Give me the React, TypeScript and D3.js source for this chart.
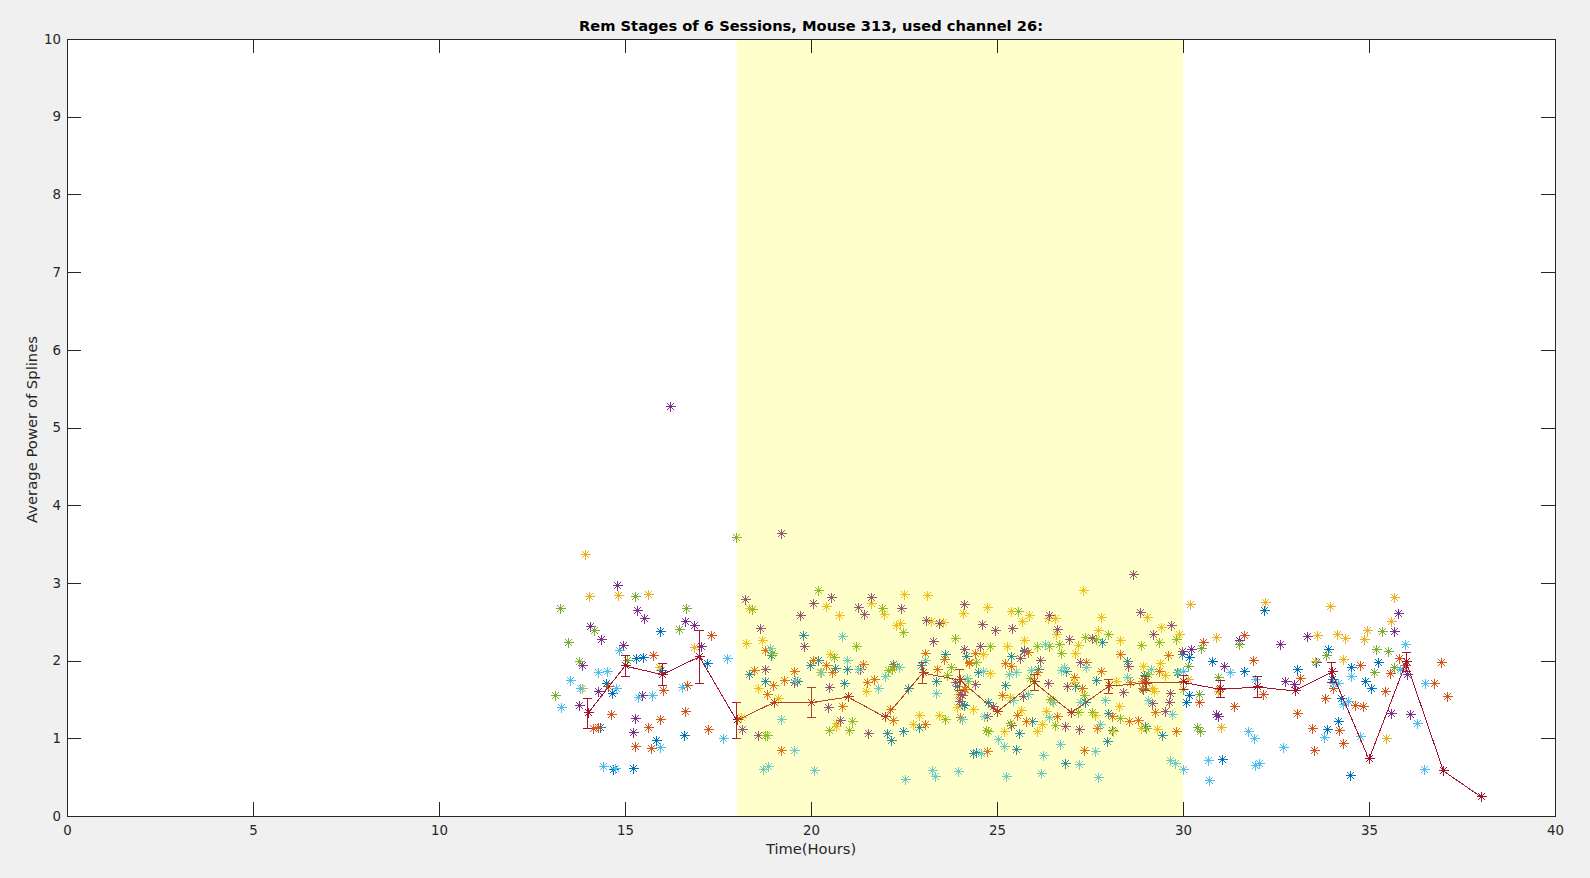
import React, { useRef, useEffect } from "react";
import * as d3 from "d3";

type Pt = [number, number];

// [hour, average power], one list per session
const blueSession: Pt[] = [
  [15.95,2.37],[15.30,2.02],[15.49,2.03],[17.21,1.95],[14.49,1.70],[14.64,1.57],[14.32,1.13],[16.59,1.03],[15.83,0.96],[15.22,0.60],[14.69,0.59],[15.97,1.86],
  [19.79,2.32],[18.92,2.06],[20.18,1.99],[19.97,1.93],[20.65,1.89],[20.98,1.88],[22.21,1.94],[18.34,1.81],[18.75,1.72],[19.62,1.72],[20.90,1.70],[23.61,2.07],[22.96,1.93],[24.17,2.04],[23.36,1.73],[22.62,1.63],[24.10,1.41],[22.89,1.13],[22.05,1.06],[22.16,0.97],[22.48,1.08],[23.92,1.66],
  [27.83,2.23],[25.73,2.12],[25.38,2.05],[28.50,1.98],[24.50,1.84],[26.11,1.88],[26.86,1.85],[27.66,1.74],[25.22,1.67],[27.11,1.66],[28.96,1.80],[24.77,1.45],[27.37,1.45],[27.99,1.31],[25.95,1.21],[25.60,1.06],[28.10,1.10],[29.44,1.03],[27.96,0.95],[25.52,0.85],[24.36,0.80],[24.43,0.81],[26.84,0.67],[29.98,2.07],[29.83,1.84],[28.93,1.62],[24.05,1.43],[28.98,1.14],
  [32.19,2.64],[30.17,2.03],[30.15,1.54],[30.09,1.45],[30.79,1.98],[31.65,1.85],[33.06,1.88],[33.91,2.13],[33.58,1.97],[34.52,1.90],[35.25,1.97],[34.90,1.72],[35.06,1.63],[34.26,1.50],[34.18,1.21],[33.88,1.11],[31.06,0.72],[34.50,0.51],[34.00,1.75],
];

const orangeSession: Pt[] = [
  [17.32,2.32],[15.76,2.06],[16.68,1.67],[16.03,1.61],[14.53,1.66],[14.63,1.30],[16.62,1.34],[15.95,1.24],[14.15,1.12],[14.28,1.13],[15.63,1.13],[17.24,1.11],[15.28,0.89],[15.71,0.86],
  [18.75,2.12],[23.07,2.09],[23.58,2.01],[23.40,1.88],[18.47,1.87],[20.06,2.00],[20.39,1.93],[21.41,1.94],[19.55,1.85],[20.57,1.84],[22.23,1.92],[19.28,1.74],[18.99,1.67],[21.69,1.75],[21.51,1.71],[18.83,1.56],[20.82,1.40],[22.13,1.36],[22.21,1.22],[23.06,1.17],[19.19,0.84],[24.00,1.26],[24.14,1.62],[24.24,1.96],
  [24.41,2.09],[24.25,1.97],[25.84,2.10],[25.22,1.96],[25.38,1.92],[27.40,1.97],[28.31,2.07],[29.61,2.06],[27.80,1.85],[29.36,1.85],[27.08,1.78],[27.29,1.63],[26.08,1.84],[25.14,1.55],[28.57,1.71],[28.89,1.73],[28.91,1.63],[26.62,1.28],[25.55,1.29],[25.79,1.21],[28.08,1.27],[28.56,1.21],[28.79,1.22],[29.26,1.33],[29.82,1.08],[27.69,1.12],[27.35,0.84],[24.74,0.82],[24.10,1.62],
  [30.55,2.23],[31.65,2.32],[31.89,1.99],[34.31,2.01],[34.77,1.93],[35.81,2.02],[35.57,1.83],[35.98,1.93],[36.94,1.97],[36.75,1.70],[33.15,1.76],[32.16,1.56],[30.44,1.45],[31.38,1.40],[34.02,1.64],[35.44,1.59],[37.10,1.53],[33.83,1.51],[34.63,1.42],[34.85,1.40],[33.06,1.31],[33.48,1.12],[34.20,1.09],[34.31,0.93],[33.53,0.84],[30.98,1.62],
];

const yellowSession: Pt[] = [
  [14.04,2.82],[14.82,2.83],[15.63,2.84],[16.85,2.16],[15.92,1.90],[13.85,1.63],[13.93,3.36],
  [22.51,2.84],[23.13,2.83],[20.39,2.69],[21.60,2.73],[18.34,2.66],[20.76,2.57],[21.97,2.59],[22.29,2.45],[22.40,2.47],[23.23,2.50],[23.55,2.48],[18.67,2.25],[18.25,2.21],[20.51,2.07],[20.24,1.84],[19.12,1.51],[18.58,1.63],[21.48,1.59],[18.12,1.26],[20.66,1.15],[20.66,1.19],[22.91,1.29],[23.45,1.29],[22.75,1.17],[23.92,1.39],[23.96,1.56],
  [27.32,2.90],[24.74,2.68],[25.38,2.63],[25.87,2.57],[25.67,2.50],[26.38,2.54],[26.57,2.54],[27.80,2.55],[27.72,2.38],[29.03,2.55],[29.41,2.42],[29.90,2.33],[24.08,2.60],[26.59,2.33],[25.73,2.25],[25.28,2.17],[27.19,2.19],[28.31,2.25],[27.10,2.09],[24.63,2.07],[24.82,1.83],[28.93,1.92],[29.38,1.96],[29.52,1.80],[27.08,1.71],[28.20,1.72],[29.23,1.60],[29.18,1.63],[24.36,1.36],[25.35,1.52],[25.65,1.35],[26.49,1.48],[26.33,1.34],[28.29,1.40],[27.64,1.29],[26.22,1.17],[25.20,1.08],[26.08,1.08],[28.13,1.08],[28.88,1.12],[29.31,1.11],
  [30.20,2.71],[32.21,2.74],[33.96,2.69],[35.68,2.81],[35.60,2.50],[30.90,2.29],[33.61,2.32],[34.15,2.33],[34.36,2.28],[34.95,2.38],[34.87,2.27],[33.56,1.98],[34.31,2.01],[30.95,1.60],[31.03,1.13],[35.47,0.99],[30.14,1.75],
];

const purpleSession: Pt[] = [
  [14.79,2.96],[15.33,2.64],[15.52,2.54],[14.07,2.43],[14.36,2.26],[16.62,2.50],[16.86,2.45],[14.95,2.19],[17.04,2.18],[13.85,1.93],[14.27,1.60],[15.47,1.55],[13.75,1.41],[15.28,1.25],[15.22,1.07],[16.22,5.26],
  [19.19,3.63],[18.23,2.78],[20.06,2.73],[20.55,2.81],[21.60,2.81],[21.25,2.68],[21.43,2.59],[22.43,2.66],[19.70,2.57],[23.10,2.51],[23.44,2.47],[18.64,2.41],[23.29,2.24],[24.10,2.13],[19.81,2.17],[18.75,1.88],[20.48,1.65],[19.55,1.71],[20.47,1.39],[18.14,1.11],[18.58,1.03],[20.79,1.22],[21.54,1.06],[24.12,2.72],[23.87,1.71],[23.99,1.47],[21.32,1.88],[24.00,1.56],
  [28.66,3.10],[28.85,2.61],[24.61,2.46],[24.95,2.38],[25.41,2.41],[26.41,2.57],[26.60,2.40],[26.94,2.27],[27.56,2.28],[29.20,2.33],[29.69,2.45],[24.55,2.17],[25.63,2.02],[25.73,2.11],[26.16,1.99],[27.24,1.97],[28.53,1.92],[29.98,2.11],[26.38,1.70],[26.89,1.66],[24.41,1.69],[25.71,1.53],[28.40,1.58],[29.66,1.57],[29.63,1.46],[29.18,1.44],[24.90,1.40],[24.74,1.27],[25.38,1.16],[26.84,1.14],[27.21,1.11],[29.52,1.34],[24.05,1.54],
  [30.21,2.14],[31.51,2.25],[32.62,2.20],[33.34,2.30],[35.79,2.60],[35.68,2.37],[31.11,1.92],[32.75,1.72],[32.99,1.69],[36.03,1.81],[35.60,1.31],[36.11,1.30],[30.89,1.30],[30.94,1.27],
];

const greenSession: Pt[] = [
  [13.26,2.66],[15.28,2.82],[16.65,2.66],[14.18,2.38],[16.46,2.39],[13.48,2.23],[13.77,1.98],[15.06,1.99],[13.13,1.54],[17.99,3.58],
  [20.20,2.90],[21.92,2.66],[18.41,2.65],[22.48,2.36],[23.88,2.28],[21.21,2.17],[18.96,2.09],[20.63,2.03],[23.77,1.90],[23.66,1.80],[22.19,1.88],[22.08,1.86],[21.11,1.21],[20.49,1.09],[21.03,1.09],[23.60,1.24],[18.75,1.03],[18.83,1.03],[24.23,1.73],
  [25.57,2.63],[24.82,2.17],[26.08,2.17],[26.41,2.17],[26.68,2.20],[26.73,2.09],[27.37,2.29],[27.67,2.27],[27.99,2.33],[28.88,2.19],[29.36,2.23],[29.82,2.27],[30.14,1.92],[24.44,1.97],[27.35,1.54],[27.19,1.33],[27.56,1.33],[25.35,1.18],[24.71,1.09],[24.77,1.08],[26.57,1.16],[28.31,1.25],[29.00,1.12],[25.89,1.76],[30.01,1.62],[29.07,1.81],[26.42,1.49],
  [30.49,2.15],[31.51,2.20],[35.36,2.37],[35.20,2.14],[35.52,2.11],[33.85,2.06],[35.14,1.84],[35.68,1.90],[30.95,1.78],[30.44,1.56],[30.38,1.13],[30.47,1.08],
];

const skySession: Pt[] = [
  [14.85,2.12],[17.75,2.02],[14.28,1.84],[14.52,1.85],[13.53,1.74],[13.80,1.63],[14.77,1.64],[16.54,1.65],[15.36,1.52],[15.73,1.55],[13.29,1.39],[15.95,0.87],[17.64,0.99],[14.42,0.63],[14.74,0.60],
  [20.84,2.30],[18.91,2.15],[20.98,2.00],[21.27,1.88],[22.37,1.91],[21.99,1.79],[20.27,1.84],[19.57,1.74],[21.81,1.63],[23.37,1.57],[23.07,1.99],[19.19,1.24],[19.53,0.84],[18.70,0.59],[18.85,0.63],[20.09,0.58],[22.54,0.46],[23.26,0.58],[23.34,0.50],[23.96,0.57],[24.07,1.24],[24.19,1.76],
  [26.30,2.20],[26.81,1.91],[26.73,1.87],[27.40,1.90],[25.91,1.87],[24.63,1.85],[25.33,1.82],[25.52,1.84],[29.14,1.88],[29.87,1.84],[28.49,1.77],[25.84,1.56],[25.44,1.48],[26.51,1.46],[27.23,1.45],[27.90,1.48],[29.07,1.48],[29.71,1.30],[26.41,1.26],[24.65,1.27],[27.78,1.17],[25.04,0.98],[25.20,0.89],[24.58,0.80],[26.70,0.91],[26.24,0.77],[27.64,0.82],[27.21,0.66],[25.25,0.50],[26.19,0.54],[27.72,0.49],[29.66,0.71],[29.79,0.67],[30.01,0.59],
  [31.27,1.84],[34.52,1.79],[31.93,1.75],[34.04,1.70],[34.18,1.70],[34.31,1.43],[34.44,1.47],[35.98,2.20],[35.84,1.88],[36.50,1.70],[36.30,1.18],[31.76,1.08],[31.92,0.99],[33.80,1.00],[34.77,1.02],[32.70,0.87],[30.68,0.71],[31.93,0.64],[32.05,0.67],[30.71,0.45],[36.49,0.59],[30.00,1.85],
];

const sessions = [blueSession, orangeSession, yellowSession, purpleSession, greenSession, skySession];
const sessionColors = ["#0072BD", "#D95319", "#EDB120", "#7E2F8E", "#77AC30", "#4DBEEE"];

const meanHours = [14, 15, 16, 17, 18, 19, 20, 21, 22, 23, 24, 25, 26, 27, 28, 29, 30, 31, 32, 33, 34, 35, 36, 37, 38];
const meanValues = [1.32, 1.93, 1.82, 2.05, 1.23, 1.46, 1.46, 1.53, 1.27, 1.84, 1.75, 1.34, 1.72, 1.33, 1.67, 1.71, 1.72, 1.63, 1.66, 1.61, 1.85, 0.73, 1.98, 0.58, 0.25];
const meanErrors = [0.19, 0.14, 0.14, 0.34, 0.23, 0, 0.19, 0, 0, 0.13, 0.13, 0, 0.10, 0, 0.09, 0.09, 0.09, 0.11, 0.14, 0, 0.13, 0, 0.12, 0, 0];

const xTicks = [0, 5, 10, 15, 20, 25, 30, 35, 40];
const yTicks = [0, 1, 2, 3, 4, 5, 6, 7, 8, 9, 10];
const darkPeriod = [18, 30];

// matlab style "*" marker: a plus and a cross on top of each other
const asterisk = {
  draw(ctx: any, size: number) {
    const r = Math.sqrt(size);
    const d = r * 0.72;
    ctx.moveTo(-r, 0); ctx.lineTo(r, 0);
    ctx.moveTo(0, -r); ctx.lineTo(0, r);
    ctx.moveTo(-d, -d); ctx.lineTo(d, d);
    ctx.moveTo(-d, d); ctx.lineTo(d, -d);
  },
};

const App = () => {
  const ref = useRef<SVGSVGElement | null>(null);

  useEffect(() => {
    const width = 1590;
    const height = 878;
    const margin = { top: 39, right: 35, bottom: 62, left: 67 };
    const chartWidth = width - margin.left - margin.right;
    const chartHeight = height - margin.top - margin.bottom;
    const font = "'DejaVu Sans', sans-serif";
    const axisColor = "#262626";
    const meanColor = "#A2142F";

    const svg = d3.select(ref.current);
    svg.selectAll("*").remove();

    const x = d3.scaleLinear().domain([0, 40]).range([0, chartWidth]);
    const y = d3.scaleLinear().domain([0, 10]).range([chartHeight, 0]);

    const g = svg.append("g").attr("transform", `translate(${margin.left},${margin.top})`);

    g.append("rect").attr("width", chartWidth).attr("height", chartHeight).attr("fill", "#fff");

    const marker = d3.symbol().type(asterisk as any).size(25);

    sessions.forEach((pts, i) => {
      g.append("g")
        .attr("shape-rendering", "crispEdges")
        .selectAll("path")
        .data(pts)
        .join("path")
        .attr("transform", (d) => `translate(${Math.round(x(d[0])) + 0.5},${Math.round(y(d[1])) - 0.5})`)
        .attr("d", marker()!)
        .attr("fill", "none")
        .attr("stroke", sessionColors[i])
        .attr("stroke-width", 1);
    });

    // Mean line with error bars
    const line = d3
      .line<number>()
      .x((d) => x(d))
      .y((_, i) => y(meanValues[i]));
    g.append("path")
      .attr("d", line(meanHours)!)
      .attr("fill", "none")
      .attr("stroke", meanColor)
      .attr("stroke-width", 1)
      .attr("shape-rendering", "crispEdges");

    const bars = g.append("g").attr("stroke", meanColor).attr("stroke-width", 1).attr("fill", "none").attr("shape-rendering", "crispEdges");
    meanHours.forEach((h, i) => {
      const e = meanErrors[i];
      if (!e) return;
      const px = x(h);
      const lo = y(meanValues[i] - e);
      const hi = y(meanValues[i] + e);
      bars.append("path").attr("d", `M${px},${lo}V${hi}M${px - 4.5},${lo}H${px + 4.5}M${px - 4.5},${hi}H${px + 4.5}`);
    });

    g.append("g")
      .attr("shape-rendering", "crispEdges")
      .selectAll("path")
      .data(meanHours)
      .join("path")
      .attr("transform", (d, i) => `translate(${Math.round(x(d)) + 0.5},${Math.round(y(meanValues[i])) - 0.5})`)
      .attr("d", marker()!)
      .attr("fill", "none")
      .attr("stroke", meanColor)
      .attr("stroke-width", 1);

    // Shaded period sits over the marks
    g.append("rect")
      .attr("x", x(darkPeriod[0]))
      .attr("width", x(darkPeriod[1]) - x(darkPeriod[0]))
      .attr("y", 0)
      .attr("height", chartHeight)
      .attr("fill", "#ffff00")
      .attr("opacity", 0.2);

    // Axes, ticks point inwards on all four sides
    const tickLen = 14;
    const styleAxis = (a: any) => {
      a.attr("font-family", font).attr("font-size", 13.33);
      a.selectAll("path,line").attr("stroke", axisColor).attr("shape-rendering", "crispEdges");
      a.selectAll("text").attr("fill", axisColor);
    };
    g.append("g")
      .attr("transform", `translate(0,${chartHeight})`)
      .call(d3.axisBottom(x).tickValues(xTicks).tickSizeInner(-tickLen).tickSizeOuter(0).tickPadding(10))
      .call(styleAxis);
    g.append("g")
      .call(d3.axisLeft(y).tickValues(yTicks).tickSizeInner(-tickLen).tickSizeOuter(0).tickPadding(6))
      .call(styleAxis);
    g.append("g")
      .call(d3.axisTop(x).tickValues(xTicks).tickSizeInner(-tickLen).tickSizeOuter(0).tickFormat(() => ""))
      .call(styleAxis);
    g.append("g")
      .attr("transform", `translate(${chartWidth},0)`)
      .call(d3.axisRight(y).tickValues(yTicks).tickSizeInner(-tickLen).tickSizeOuter(0).tickFormat(() => ""))
      .call(styleAxis);

    // Labels
    svg.append("text")
      .attr("x", margin.left + chartWidth / 2)
      .attr("y", 31)
      .attr("text-anchor", "middle")
      .attr("font-family", font)
      .attr("font-size", 14.66)
      .attr("font-weight", "bold")
      .attr("fill", "#000")
      .text("Rem Stages of 6 Sessions, Mouse 313, used channel 26:");
    svg.append("text")
      .attr("x", margin.left + chartWidth / 2)
      .attr("y", 854)
      .attr("text-anchor", "middle")
      .attr("font-family", font)
      .attr("font-size", 14.66)
      .attr("fill", axisColor)
      .text("Time(Hours)");
    svg.append("text")
      .attr("transform", `translate(37,${margin.top + chartHeight / 2 + 2}) rotate(-90)`)
      .attr("text-anchor", "middle")
      .attr("font-family", font)
      .attr("font-size", 14.8)
      .attr("fill", axisColor)
      .text("Average Power of Splines");
  }, []);

  return (
    <svg
      ref={ref}
      width={1590}
      height={878}
      viewBox="0 0 1590 878"
      style={{ position: "absolute", left: 0, top: 0, background: "#f0f0f0" }}
    />
  );
};

export default App;
